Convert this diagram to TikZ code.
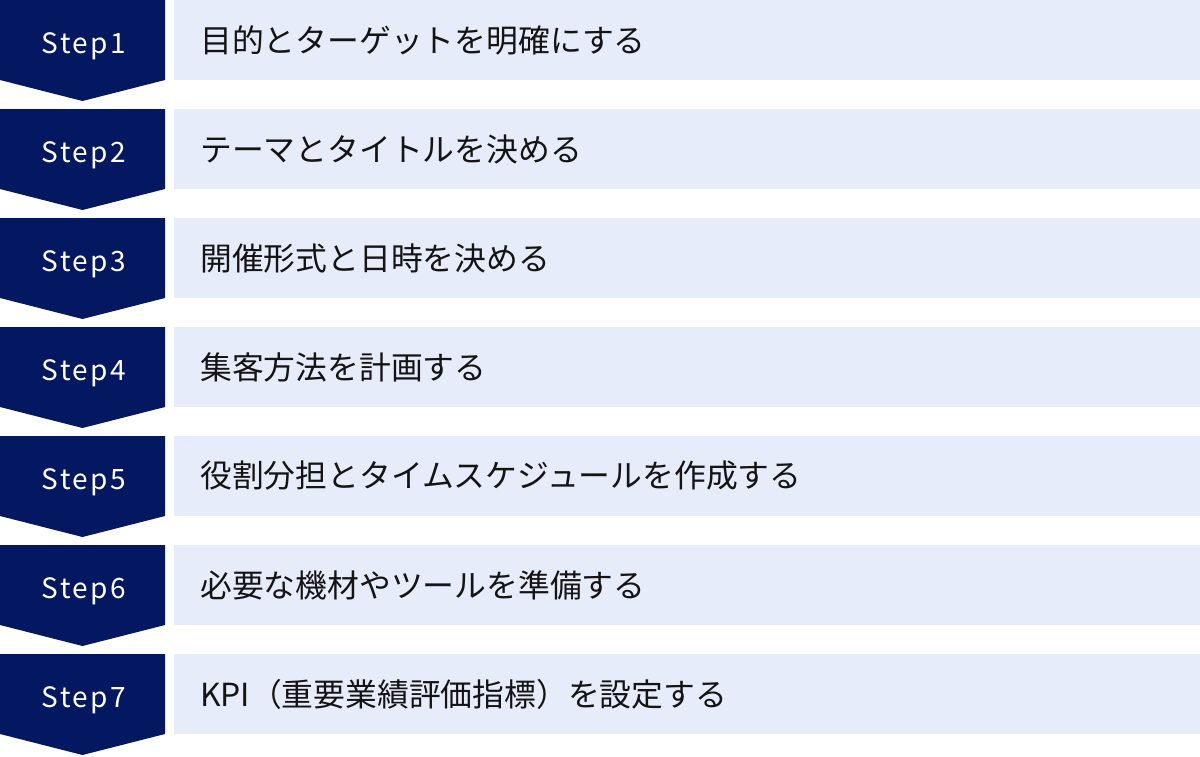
\documentclass[tikz,border=0pt]{standalone}
\usepackage{fontspec}
\newfontfamily\jpfont{Noto Sans CJK JP}
\newfontfamily\stepfont[LetterSpace=9]{Noto Sans CJK JP}
\definecolor{navy}{RGB}{4,24,98}
\definecolor{lightbar}{RGB}{230,236,250}
\definecolor{textdark}{RGB}{20,20,20}
\tikzset{
  stepshape/.style={fill=navy, draw=none},
  barshape/.style={fill=lightbar, draw=none},
  steplabel/.style={text=white, font=\stepfont\fontsize{28}{30}\selectfont, inner sep=0pt, anchor=base},
  barlabel/.style={text=textdark, font=\jpfont\fontsize{31.8}{34}\selectfont, inner sep=0pt, anchor=west}
}
\begin{document}
\begin{tikzpicture}[x=1pt,y=-1pt]
\useasboundingbox (0,0) rectangle (1200,756);
\foreach \i/\txt in {1/目的とターゲットを明確にする,2/テーマとタイトルを決める,3/開催形式と日時を決める,4/集客方法を計画する,5/役割分担とタイムスケジュールを作成する,6/必要な機材やツールを準備する,7/KPI（重要業績評価指標）を設定する}{
  \pgfmathsetmacro{\yy}{109*(\i-1)}
  \fill[stepshape] (0,\yy) -- (165,\yy) -- (165,\yy+80) -- (82.5,\yy+101) -- (0,\yy+80) -- cycle;
  \fill[barshape] (174,\yy) rectangle (1200,\yy+80);
  \node[steplabel] (s\i) at (84,\yy+53) {Step\i};
  \node[barlabel] (t\i) at (200,\yy+40) {\txt};
}
\end{tikzpicture}
\end{document}
